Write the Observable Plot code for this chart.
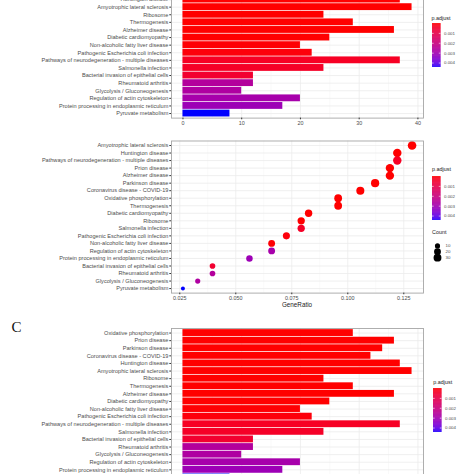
<!DOCTYPE html>
<html>
<head>
<meta charset="utf-8">
<script src="https://cdn.jsdelivr.net/npm/d3@7"></script>
<script src="https://cdn.jsdelivr.net/npm/@observablehq/plot@0.6"></script>
<style>
  html, body { margin: 0; padding: 0; background: #fff; }
  #wrap { position: relative; width: 474px; height: 474px; overflow: hidden; background: #fff; }
  #wrap > svg, #wrap > div { position: absolute; }
  .lt { font-family: "Liberation Sans", Arial, sans-serif; color: #1a1a1a; white-space: nowrap; line-height: 1; }
</style>
</head>
<body>
<div id="wrap"></div>
<script>
// ---------- data ----------
// bar-chart order (top to bottom, by p.adjust)
const barNames = [
  "Oxidative phosphorylation",
  "Prion disease",
  "Parkinson disease",
  "Coronavirus disease - COVID-19",
  "Huntington disease",
  "Amyotrophic lateral sclerosis",
  "Ribosome",
  "Thermogenesis",
  "Alzheimer disease",
  "Diabetic cardiomyopathy",
  "Non-alcoholic fatty liver disease",
  "Pathogenic Escherichia coli infection",
  "Pathways of neurodegeneration - multiple diseases",
  "Salmonella infection",
  "Bacterial invasion of epithelial cells",
  "Rheumatoid arthritis",
  "Glycolysis / Gluconeogenesis",
  "Regulation of actin cytoskeleton",
  "Protein processing in endoplasmic reticulum",
  "Pyruvate metabolism"
];
const barCounts = [29, 36, 34, 32, 37, 39, 24, 29, 36, 25, 20, 22, 37, 24, 12, 12, 10, 20, 17, 8];
const barPadj = [1e-9, 1e-8, 2e-8, 5e-8, 1e-7, 2e-7, 5e-7, 1e-6, 2e-6, 1e-5, 3e-5, 8e-5,
                 0.00035, 0.0004, 0.00055, 0.0026, 0.0027, 0.0029, 0.0031, 0.00445];
const geneRatio = [0.0957, 0.1188, 0.1122, 0.1056, 0.1221, 0.1287, 0.0792, 0.0957, 0.1188, 0.0825,
                   0.0660, 0.0726, 0.1221, 0.0792, 0.0396, 0.0396, 0.0330, 0.0660, 0.0561, 0.0264];
// dot-plot order (top to bottom, by GeneRatio)
const dotOrder = [
  "Amyotrophic lateral sclerosis",
  "Huntington disease",
  "Pathways of neurodegeneration - multiple diseases",
  "Prion disease",
  "Alzheimer disease",
  "Parkinson disease",
  "Coronavirus disease - COVID-19",
  "Oxidative phosphorylation",
  "Thermogenesis",
  "Diabetic cardiomyopathy",
  "Ribosome",
  "Salmonella infection",
  "Pathogenic Escherichia coli infection",
  "Non-alcoholic fatty liver disease",
  "Regulation of actin cytoskeleton",
  "Protein processing in endoplasmic reticulum",
  "Bacterial invasion of epithelial cells",
  "Rheumatoid arthritis",
  "Glycolysis / Gluconeogenesis",
  "Pyruvate metabolism"
];
const countTicks = [0, 10, 20, 30, 40];
const countMinor = [5, 15, 25, 35];
const ratioTicks = [0.025, 0.05, 0.075, 0.1, 0.125];
const ratioMinor = [0.0375, 0.0625, 0.0875, 0.1125];
const padjTicks = [0.001, 0.002, 0.003, 0.004];
const countLegend = [10, 20, 30];

// ---------- helpers ----------
const rows = barNames.map((name, i) => ({name, count: barCounts[i], p: barPadj[i], ratio: geneRatio[i]}));
const FONT = '"Liberation Sans", Arial, sans-serif';
const pMin = d3.min(barPadj), pMax = d3.max(barPadj);
const colorScale = {type: "linear", domain: [pMin, pMax], range: ["red", "blue"], interpolate: d3.interpolateLab};
const cMin = d3.min(barCounts), cMax = d3.max(barCounts);
const rVal = c => Math.sqrt(c - cMin);
const rScale = {type: "linear", domain: [0, rVal(cMax)], range: [2, 4.3]};
const wrap = document.getElementById("wrap");
const baseStyle = {fontFamily: FONT, fontSize: "5.6px", color: "#4d4d4d", background: "transparent", overflow: "visible"};

function place(el, left, top) { el.style.left = left + "px"; el.style.top = top + "px"; wrap.appendChild(el); return el; }
function label(text, left, cy, size, extra) {
  const d = document.createElement("div");
  d.className = "lt"; d.textContent = text; d.style.fontSize = size + "px";
  if (extra) Object.assign(d.style, extra);
  place(d, left, cy - size / 2);
  return d;
}

function barPanel(mt, mb) {
  const plotH = 153.5;
  return Plot.plot({
    width: 474, height: mt + plotH + mb,
    marginLeft: 171, marginRight: 51, marginTop: mt, marginBottom: mb,
    style: baseStyle,
    x: {domain: [-1.95, 40.95], label: null},
    y: {domain: barNames, paddingInner: 0.1, paddingOuter: 0.15, round: false, label: null},
    color: colorScale,
    marks: [
      Plot.gridX(countMinor, {stroke: "#f3f3f3", strokeOpacity: 1, strokeWidth: 0.5}),
      Plot.gridX(countTicks, {stroke: "#ebebeb", strokeOpacity: 1, strokeWidth: 0.8}),
      Plot.gridY({stroke: "#ebebeb", strokeOpacity: 1, strokeWidth: 0.8}),
      Plot.barX(rows, {x: "count", y: "name", fill: "p"}),
      Plot.frame({stroke: "#a6a6a6", strokeWidth: 0.9}),
      Plot.axisY({tickSize: 1.7, tickPadding: 1.4, fontSize: 5.6, label: null, stroke: "#333"}),
      Plot.axisX({ticks: countTicks, tickSize: 1.7, tickPadding: 1.4, fontSize: 5.4, label: null, stroke: "#333"})
    ]
  });
}

function colorbar(left, barTop) {
  const n = 100, step = (pMax - pMin) / n;
  const stops = d3.range(n).map(i => pMin + i * step);
  const svg = Plot.plot({
    width: 40, height: 50, margin: 0,
    style: {...baseStyle, color: "#4d4d4d"},
    x: {domain: [0, 1], range: [0, 8.5], axis: null},
    y: {domain: [pMin, pMax], range: [2, 46], axis: null},
    color: colorScale,
    marks: [
      Plot.rect(stops, {x1: () => 0, x2: () => 1, y1: d => d, y2: d => Math.min(pMax, d + step * 1.6), fill: d => d}),
      Plot.ruleY(padjTicks, {x1: () => 0, x2: () => 0.2, stroke: "white", strokeWidth: 0.6}),
      Plot.ruleY(padjTicks, {x1: () => 0.8, x2: () => 1, stroke: "white", strokeWidth: 0.6}),
      Plot.text(padjTicks, {x: () => 1, y: d => d, text: d => d3.format(".3f")(d), textAnchor: "start", dx: 3, fontSize: 4.4, fill: "#4d4d4d"})
    ]
  });
  return place(svg, left, barTop - 2);
}

// ---------- panel A (bar, cropped at top) ----------
place(barPanel(4.1, 14.4), 0, -40);
label("p.adjust", 431.5, 18.6, 5.4);
colorbar(431.5, 23.3);

// ---------- panel B (dot plot) ----------
const dotPlot = Plot.plot({
  width: 474, height: 10.5 + 152.1 + 20,
  marginLeft: 171, marginRight: 51, marginTop: 10.5, marginBottom: 20,
  style: baseStyle,
  x: {domain: [0.0213, 0.1338], label: null},
  y: {type: "point", domain: dotOrder, padding: 0.6, round: false, label: null},
  color: colorScale,
  r: rScale,
  marks: [
    Plot.gridX(ratioMinor, {stroke: "#f3f3f3", strokeOpacity: 1, strokeWidth: 0.5}),
    Plot.gridX(ratioTicks, {stroke: "#ebebeb", strokeOpacity: 1, strokeWidth: 0.8}),
    Plot.gridY({stroke: "#ebebeb", strokeOpacity: 1, strokeWidth: 0.8}),
    Plot.dot(rows, {x: "ratio", y: "name", r: d => rVal(d.count), fill: "p", stroke: null}),
    Plot.frame({stroke: "#a6a6a6", strokeWidth: 0.9}),
    Plot.axisY({tickSize: 1.7, tickPadding: 1.4, fontSize: 5.6, label: null, stroke: "#333"}),
    Plot.axisX({ticks: ratioTicks, tickFormat: d3.format(".3f"), tickSize: 1.7, tickPadding: 1.4, fontSize: 5.4, label: null, stroke: "#333"})
  ]
});
place(dotPlot, 0, 130);
label("GeneRatio", 297, 305, 6.3, {transform: "translateX(-50%)", color: "#1a1a1a"});
label("p.adjust", 432, 170, 5.4);
colorbar(432, 175.7);
label("Count", 432, 232.7, 5.4);
const sizeLegend = Plot.plot({
  width: 40, height: 28, margin: 0,
  style: baseStyle,
  x: {domain: [0, 1], range: [0, 10], axis: null},
  y: {type: "point", domain: countLegend, range: [4.5, 22.1], round: false, axis: null},
  r: rScale,
  marks: [
    Plot.dot(countLegend, {x: () => 0.5, y: d => d, r: d => rVal(d), fill: "black", stroke: null}),
    Plot.text(countLegend, {x: () => 1, y: d => d, text: d => String(d), textAnchor: "start", dx: 3, fontSize: 4.4, fill: "#4d4d4d"})
  ]
});
place(sizeLegend, 432, 238.2);

// ---------- panel C (bar, cropped at bottom) ----------
place(barPanel(10, 20), 0, 318);
label("p.adjust", 433.3, 382.4, 5.4);
colorbar(433.3, 387.7);
label("C", 11.5, 327, 15, {fontFamily: '"Liberation Serif", "Times New Roman", serif', color: "#111"});
</script>
</body>
</html>
